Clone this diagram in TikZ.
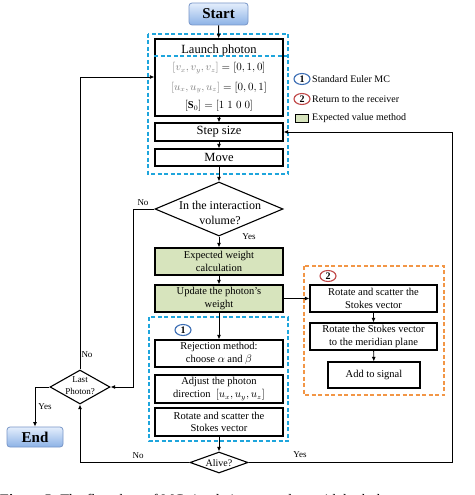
\documentclass[tikz,border=0pt]{standalone}
\usepackage{fontspec}
\setmainfont{Liberation Serif}
\usetikzlibrary{arrows.meta,shapes.geometric,calc}
\definecolor{cyanD}{RGB}{30,165,220}
\definecolor{orangeD}{RGB}{242,150,70}
\definecolor{greenF}{RGB}{215,228,189}
\definecolor{blueC}{RGB}{60,110,180}
\definecolor{redC}{RGB}{192,70,70}
\definecolor{termTop}{RGB}{228,238,252}
\definecolor{termBot}{RGB}{140,178,230}
\definecolor{termLine}{RGB}{120,150,200}
\begin{document}
\begin{tikzpicture}[x=1pt,y=-1pt,
  >={Latex[length=4.5pt,width=4pt]},
  conn/.style={->,line width=0.9pt},
  line/.style={line width=0.9pt},
  box/.style={draw,line width=1.1pt,minimum width=128pt,inner sep=1pt,align=center,
    font=\fontsize{10.5}{12.5}\selectfont},
  bigbox/.style={box,font=\fontsize{12.5}{14}\selectfont},
  greenbox/.style={box,fill=greenF},
  term/.style={draw=termLine,line width=0.8pt,rounded corners=3pt,top color=termTop,bottom color=termBot,
    font=\fontsize{15}{17}\selectfont\bfseries,inner sep=0pt},
  dia/.style={draw,line width=1.1pt,shape=diamond,inner sep=0pt},
  bluedash/.style={draw=cyanD,line width=1.5pt,dash pattern=on 4pt off 2.5pt},
  orangedash/.style={draw=orangeD,line width=1.3pt,dash pattern=on 4pt off 2.5pt},
  numc/.style={draw,shape=ellipse,line width=1.1pt,minimum width=16pt,minimum height=11pt,inner sep=0pt,
    font=\fontsize{10}{10}\selectfont\bfseries},
  lbl/.style={font=\fontsize{9}{10}\selectfont,inner sep=0pt},
  legtxt/.style={font=\fontsize{10}{12}\selectfont,anchor=west,inner sep=0pt}
]
\clip (0,0) rectangle (474,495);
\fill[white] (0,0) rectangle (474,495);

% dashed group frames
\draw[bluedash] (148,34) rectangle (288,174);
\draw[bluedash] (149,317) rectangle (288,441);
\draw[orangedash] (304,266) rectangle (444,395);

% terminals
\node[term,minimum width=59pt,minimum height=22pt] (start) at (218.5,14) {Start};
\node[term,minimum width=56pt,minimum height=20pt] (end) at (35,437) {End};

% first group
\node[bigbox,minimum height=77pt] (launch) at (219,77.5) {};
\node[bigbox,anchor=center,draw=none,inner sep=0pt] (launchT) at (219,50) {Launch photon};
\draw[draw=cyanD,line width=1.5pt,dash pattern=on 4pt off 2.5pt] (launch.west |- 0,56) -- (288,56);
\node[inner sep=0pt,font=\fontsize{10.5}{12}\selectfont] (m1) at (219,68)
  {$\color{gray}\left[v_x,v_y,v_z\right]\color{black}=\left[0,1,0\right]$};
\node[inner sep=0pt,font=\fontsize{10.5}{12}\selectfont] (m2) at (219,87.5)
  {$\color{gray}\left[u_x,u_y,u_z\right]\color{black}=\left[0,0,1\right]$};
\node[inner sep=0pt,font=\fontsize{10.5}{12}\selectfont] (m3) at (219,106)
  {$\left[\mathbf{S}_0\right]=\left[1\;1\;0\;0\right]$};
\node[bigbox,minimum height=18pt] (step) at (219,132) {Step size};
\node[bigbox,minimum height=17pt] (move) at (219,157.5) {Move};

% decision
\node[dia,minimum width=128pt,minimum height=54pt] (d1) at (219,209) {};
\node[align=center,inner sep=0pt,font=\fontsize{12}{15.5}\selectfont] (d1t) at (220,213) {In the interaction\\volume?};

\node[greenbox,minimum height=27pt] (exp) at (219,261.5) {Expected weight\\calculation};
\node[greenbox,minimum height=27pt] (upd) at (219,298.5) {Update the photon's\\weight};

% second group
\node[numc,draw=blueC] (c1) at (183,330) {1};
\node[box,minimum height=27pt] (rej) at (219,353.5) {Rejection method:\\choose $\alpha$ and $\beta$};
\node[box,minimum height=28pt] (adj) at (219,389) {Adjust the photon\\direction\ \ $\left[u_x,u_y,u_z\right]$};
\node[box,minimum height=28pt] (rot) at (219,422) {Rotate and scatter the\\Stokes vector};

\node[dia,minimum width=58pt,minimum height=21pt] (alive) at (219,462.5) {};
\node[lbl,font=\fontsize{10}{11}\selectfont] (alivet) at (219,463) {Alive?};

\node[dia,minimum width=60pt,minimum height=34pt] (lastp) at (80,387) {};
\node[align=center,inner sep=0pt,font=\fontsize{9}{12}\selectfont] (lastpt) at (80,386) {Last\\Photon?};

% orange group
\node[numc,draw=redC] (c2) at (328,276) {2};
\node[box,minimum width=127pt,minimum height=27pt] (o1) at (373.5,298.5) {Rotate and scatter the\\Stokes vector};
\node[box,minimum width=127pt,minimum height=27pt] (o2) at (373.5,336.5) {Rotate the Stokes vector\\to the meridian plane};
\node[box,minimum width=92pt,minimum height=26pt] (o3) at (374,375) {Add to signal};

% legend
\node[numc,draw=blueC] (lc1) at (302,79) {1};
\node[legtxt] (lt1) at (312,79) {Standard Euler MC};
\node[numc,draw=redC] (lc2) at (302,99) {2};
\node[legtxt] (lt2) at (312,99) {Return to the receiver};
\node[draw,line width=0.8pt,fill=greenF,minimum width=13pt,minimum height=8pt,inner sep=0pt] (lg) at (302,118) {};
\node[legtxt] (lt3) at (312,118) {Expected value method};

% connectors
\draw[conn] (start) -- (launch);
\draw[conn] (launch) -- (step);
\draw[conn] (step) -- (move);
\draw[conn] (move) -- (d1);
\draw[conn] (d1) -- (exp);
\draw[conn] (exp) -- (upd);
\draw[conn] (upd) -- (rej);
\draw[conn] (upd.east) -- (o1.west);
\draw[conn] (o1) -- (o2);
\draw[conn] (o2) -- (o3);
\draw[conn] (rot) -- (alive);
\coordinate (nA) at (133,209);
\draw[conn] (d1.west) -- (nA) |- (lastp.east);
\coordinate (nB) at (80,77);
\draw[conn] (lastp.north) -- (nB) -- (launch.west |- nB);
\coordinate (nC) at (35,387);
\draw[conn] (lastp.west) -- (nC) -- (end.north);
\coordinate (nD) at (80,462.5);
\draw[conn] (alive.west) -- (nD) -- (lastp.south);
\coordinate (nE) at (452,462.5);
\coordinate (nF) at (452,132);
\draw[conn] (alive.east) -- (nE) -- (nF) -- (step.east);

% branch labels
\node[lbl] (l1) at (143,203) {No};
\node[lbl] (l2) at (249,237) {Yes};
\node[lbl] (l3) at (87,355) {No};
\node[lbl] (l4) at (45,407) {Yes};
\node[lbl] (l5) at (138,456) {No};
\node[lbl] (l6) at (300,455) {Yes};

% caption (cut off at bottom, as in the reference)
\node[anchor=base west,inner sep=0pt,font=\fontsize{14.5}{16}\selectfont] (cap) at (0,504)
  {\textbf{Figure 5.} The flowchart of MC simulation procedure with both that};
\end{tikzpicture}
\end{document}
